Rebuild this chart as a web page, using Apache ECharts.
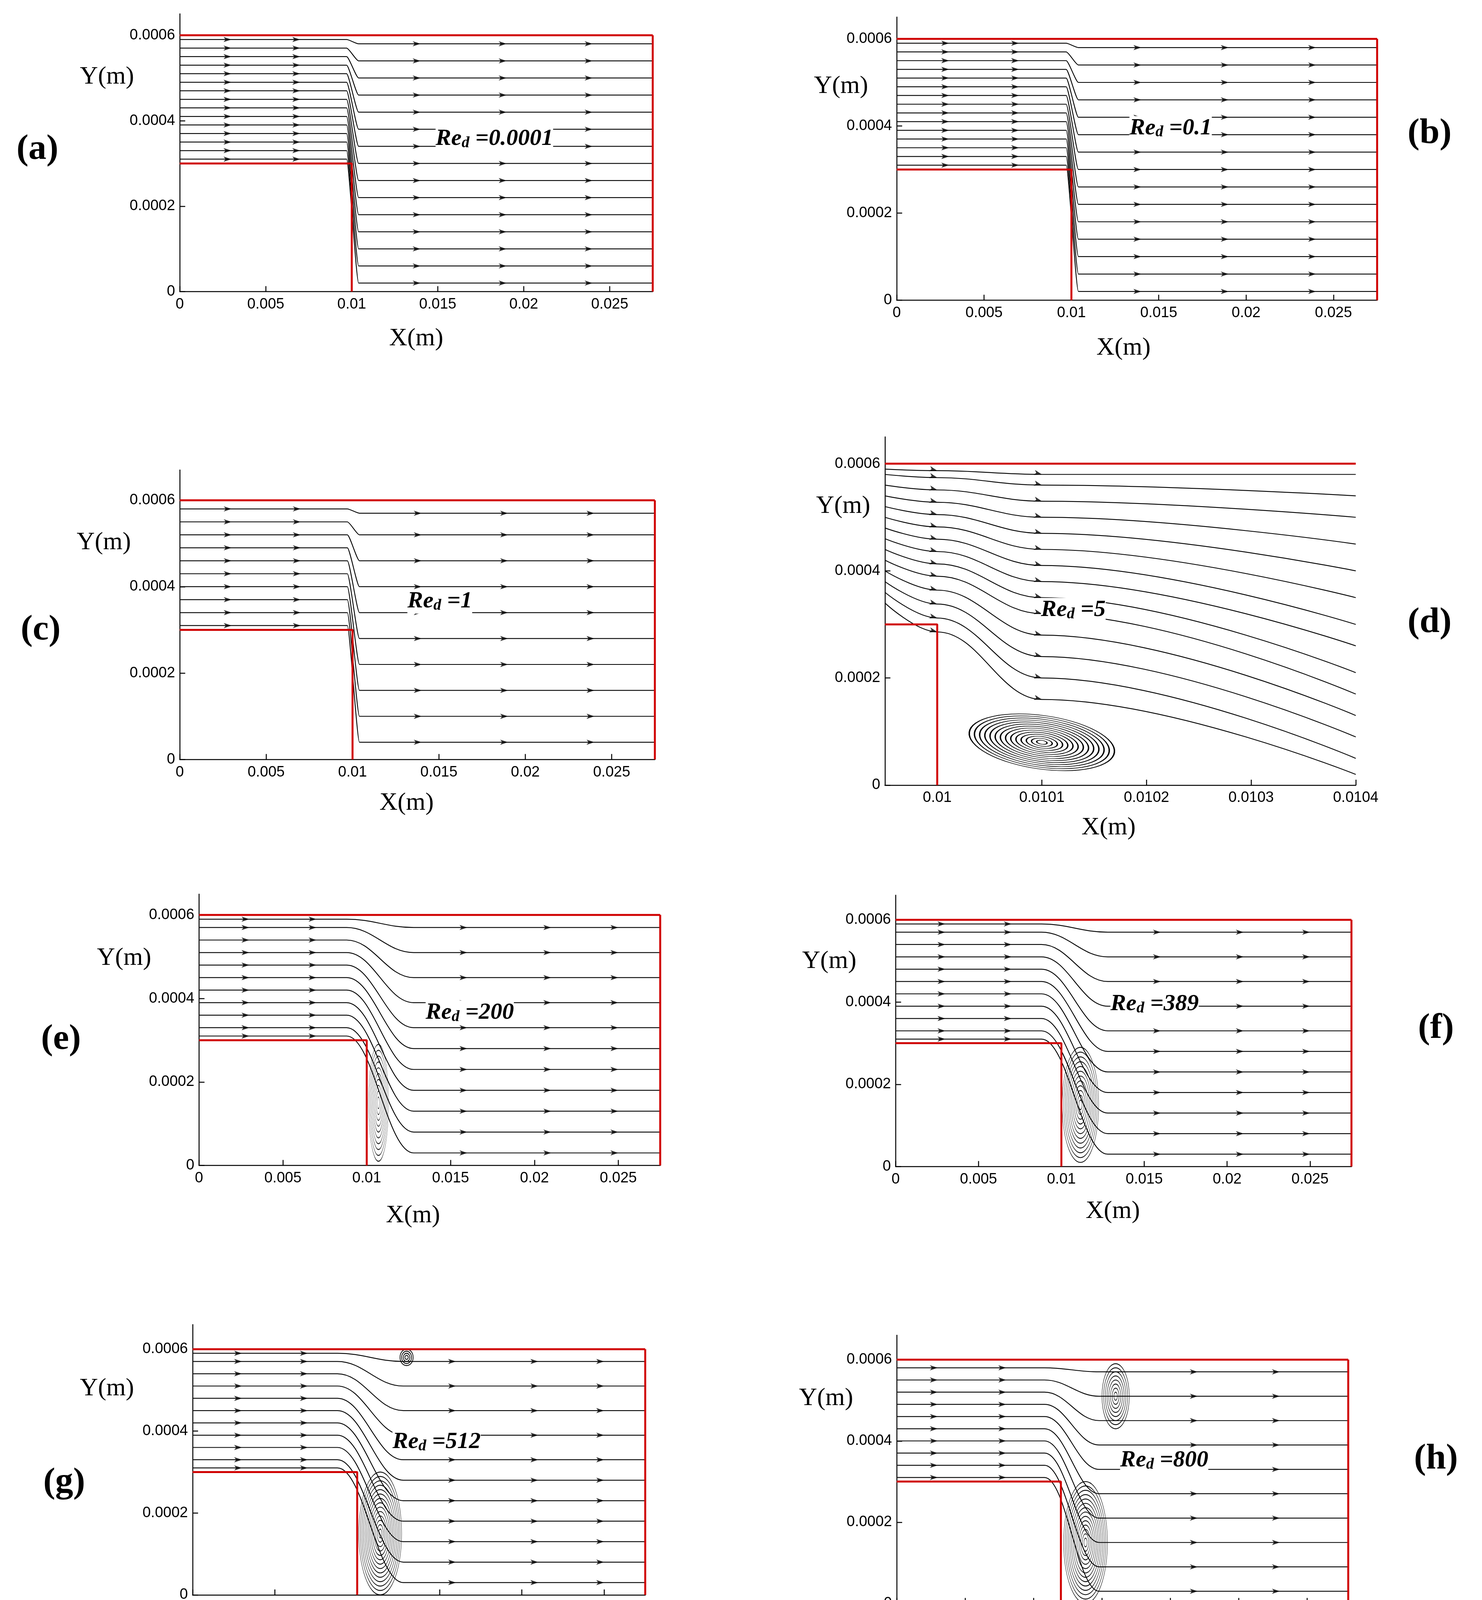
<!DOCTYPE html>
<html><head><meta charset="utf-8">
<script src="https://cdn.jsdelivr.net/npm/echarts@6/dist/echarts.min.js"></script>
<style>html,body{margin:0;background:#fff}#c{width:3793px;height:4288px}</style>
</head><body><div id="c"></div>
<script>
// streamline levels: upstream y, downstream y (m)
var upA = [0.00031,0.00033,0.00035,0.00037,0.00039,0.00041,0.00043,0.00045,0.00047,0.00049,0.00051,0.00053,0.00055,0.00057,0.00059];
var downA = [0.00002,0.00006,0.0001,0.00014,0.00018,0.00022,0.00026,0.0003,0.00034,0.00038,0.00042,0.00046,0.0005,0.00054,0.00058];
var upC = [0.00031,0.00034,0.00037,0.0004,0.00043,0.00046,0.00049,0.00052,0.00055,0.00058];
var downC = [0.00004,0.0001,0.00016,0.00022,0.00028,0.00034,0.0004,0.00046,0.00052,0.00057];
var upD = [0.00034,0.00036,0.00038,0.0004,0.00042,0.00044,0.00046,0.00048,0.0005,0.00052,0.00054,0.00056,0.00058,0.00059];
var midD = [0.00016,0.0002,0.00024,0.00028,0.00032,0.00035,0.00038,0.00041,0.00044,0.00047,0.0005,0.00053,0.00056,0.00058];
var endD = [0.00002,0.00005,0.00009,0.00013,0.00017,0.00021,0.00026,0.0003,0.00035,0.0004,0.00045,0.0005,0.00054,0.00058];
var upE = [0.00031,0.00033,0.00036,0.00039,0.00042,0.00045,0.00048,0.00051,0.00054,0.00057,0.00059];
var downE = [0.00003,0.00008,0.00013,0.00018,0.00023,0.00028,0.00033,0.00039,0.00045,0.00051,0.00057];
var upH = [0.00031,0.00034,0.00037,0.0004,0.00043,0.00046,0.00049,0.00052,0.00055,0.00058];
var downH = [0.00003,0.00009,0.00015,0.00021,0.00027,0.00033,0.00039,0.00045,0.00051,0.00057];
// arrow x positions per panel
var arrowsAB = [0.003, 0.007, 0.014, 0.019, 0.024];
var arrowsEH = [0.003, 0.007, 0.016, 0.021, 0.025];
var arrowsH = [0.003, 0.008, 0.022, 0.028];
// vortices: [cx, cy, rx, ry, rings, rotation deg]
var vortD = [[0.01010, 0.00008, 0.00007, 0.00005, 14, -8]];
var vortE = [[0.01070, 0.00015, 0.0006, 0.00014, 10, 0]];
var vortF = [[0.01115, 0.00015, 0.0011, 0.00014, 12, 0]];
var vortG = [[0.01140, 0.00015, 0.0013, 0.00015, 14, 0], [0.0130, 0.00058, 0.0004, 0.00002, 4, 0]];
var vortH = [[0.01380, 0.00015, 0.0016, 0.00015, 14, 0], [0.0160, 0.00051, 0.0010, 0.00008, 8, 0]];
var xTicks = [0, 0.005, 0.01, 0.015, 0.02, 0.025];
var xTicksH = [0, 0.005, 0.01, 0.015, 0.02, 0.025, 0.03];
var xTicksD = [0.01, 0.0101, 0.0102, 0.0103, 0.0104];
var yTicks = [0, 0.0002, 0.0004, 0.0006];

var SX = 3793 / 1385, SY = 4288 / 1568;
var panels = [
  {k:'a', box:[168,610,13,273], xmin:0, xmax:0.0275, ymax:0.00065, step:0.01, up:upA, down:downA, arrows:arrowsAB, xt:xTicks, vort:[], lab:[35,140], yl:[100,72], xl:[389,317], re:[462,130,'0.0001']},
  {k:'b', box:[838,1287,16,281], xmin:0, xmax:0.0275, ymax:0.00065, step:0.01, up:upA, down:downA, arrows:arrowsAB, xt:xTicks, vort:[], lab:[1336,125], yl:[786,81], xl:[1050,326], re:[1094,120,'0.1']},
  {k:'c', box:[168,612,440,711], xmin:0, xmax:0.0275, ymax:0.00067, step:0.01, up:upC, down:downC, arrows:arrowsAB, xt:xTicks, vort:[], lab:[38,590], yl:[97,508], xl:[380,752], re:[411,563,'1']},
  {k:'d', box:[827,1267,409,735], xmin:0.00995, xmax:0.0104, ymax:0.00065, step:0.01, up:upD, mid:midD, down:endD, arrows:[], xt:xTicksD, vort:vortD, lab:[1336,583], yl:[788,474], xl:[1036,775], re:[1003,571,'5']},
  {k:'e', box:[186,617,837,1091], xmin:0, xmax:0.0275, ymax:0.00065, step:0.01, up:upE, down:downE, arrows:arrowsEH, xt:xTicks, vort:vortE, lab:[57,973], yl:[116,897], xl:[386,1138], re:[439,948,'200'], soft:true},
  {k:'f', box:[837,1263,838,1092], xmin:0, xmax:0.0275, ymax:0.00066, step:0.01, up:upE, down:downE, arrows:arrowsEH, xt:xTicks, vort:vortF, lab:[1342,963], yl:[775,900], xl:[1040,1134], re:[1079,940,'389'], soft:true},
  {k:'g', box:[180,603,1240,1493], xmin:0, xmax:0.0275, ymax:0.00066, step:0.01, up:upE, down:downE, arrows:arrowsEH, xt:xTicks, vort:vortG, lab:[60,1388], yl:[100,1300], xl:[378,1532], re:[408,1350,'512'], soft:true},
  {k:'h', box:[838,1260,1250,1501], xmin:0, xmax:0.033, ymax:0.00066, step:0.012, up:upH, down:downH, arrows:arrowsH, xt:xTicksH, vort:vortH, lab:[1342,1366], yl:[772,1309], xl:[1045,1547], re:[1088,1367,'800'], soft:true}
];

var fmt = function (v) { return String(+(+v).toPrecision(6)); };
var grids = [], xAxes = [], yAxes = [], series = [], graphics = [];
panels.forEach(function (p, i) {
  var b = p.box;
  grids.push({left: b[0]*SX, top: b[2]*SY, width: (b[1]-b[0])*SX, height: (b[3]-b[2])*SY, containLabel: false});
  var ax = {lineStyle: {color: '#000', width: 2.5}};
  xAxes.push({type: 'value', gridIndex: i, min: p.xmin, max: p.xmax, splitLine: {show: false}, axisLine: ax,
    axisTick: {inside: true, length: 14, lineStyle: {width: 2.5, color: '#000'}, customValues: p.xt},
    axisLabel: {customValues: p.xt, formatter: fmt, fontFamily: 'Liberation Sans', fontSize: 38, color: '#000', margin: 14}});
  yAxes.push({type: 'value', gridIndex: i, min: 0, max: p.ymax, splitLine: {show: false}, axisLine: ax,
    axisTick: {inside: true, length: 14, lineStyle: {width: 2.5, color: '#000'}, customValues: yTicks},
    axisLabel: {customValues: yTicks, formatter: fmt, fontFamily: 'Liberation Sans', fontSize: 38, color: '#000', margin: 12}});
  var sl = {color: '#000', width: 2.2};
  var arrowPts = [];
  p.up.forEach(function (yu, j) {
    var yd = p.down[j], pts;
    if (p.mid) {
      pts = [[p.xmin, yu], [0.01, yu - (yu - p.mid[j]) * 0.3], [0.0101, p.mid[j]], [0.0104, yd]];
      arrowPts.push(pts[1], pts[2]);
    } else if (p.soft) {
      pts = [[p.xmin, yu], [p.step - 0.0012, yu], [p.step + 0.0028, yd], [p.xmax, yd]];
    } else {
      pts = [[p.xmin, yu], [p.step - 0.0003, yu], [p.step + 0.0004, yd], [p.xmax, yd]];
    }
    series.push({type: 'line', xAxisIndex: i, yAxisIndex: i, data: pts, smooth: p.soft || p.mid ? 0.4 : 0.2,
      smoothMonotone: 'x', showSymbol: false, silent: true, lineStyle: sl, z: 2});
    p.arrows.forEach(function (ax2) {
      arrowPts.push([ax2, ax2 < p.step ? yu : yd]);
    });
  });
  series.push({type: 'scatter', xAxisIndex: i, yAxisIndex: i, data: arrowPts, symbol: 'arrow', symbolSize: [10, 20],
    symbolRotate: p.mid ? -105 : -90, itemStyle: {color: '#000'}, silent: true, z: 3});
  if (p.vort.length) {
    series.push({type: 'custom', xAxisIndex: i, yAxisIndex: i, data: p.vort, silent: true, z: 4,
      renderItem: function (params, api) {
        var c = api.coord([api.value(0), api.value(1)]);
        var e = api.coord([api.value(0) + api.value(2), api.value(1) + api.value(3)]);
        var rx = Math.abs(e[0] - c[0]), ry = Math.abs(c[1] - e[1]), n = api.value(4);
        var kids = [];
        for (var r = 1; r <= n; r++) {
          kids.push({type: 'circle', x: c[0], y: c[1], rotation: api.value(5) * Math.PI / 180,
            scaleX: rx / ry, shape: {cx: 0, cy: 0, r: ry * r / n},
            style: {fill: 'none', stroke: '#000', lineWidth: 2.2, strokeNoScale: true}});
        }
        return {type: 'group', children: kids};
      }});
  }
  // red walls
  var red = {color: '#d00000', width: 5};
  var walls = [[[p.xmin, 0.0006], [p.xmax, 0.0006]], [[p.xmin, 0.0003], [p.step, 0.0003], [p.step, 0]]];
  if (p.k !== 'd') walls.push([[p.xmax, 0.0006], [p.xmax, 0]]);
  walls.forEach(function (w) {
    series.push({type: 'line', xAxisIndex: i, yAxisIndex: i, data: w, showSymbol: false, silent: true, lineStyle: red, z: 5});
  });
  var serif = 'Liberation Serif';
  graphics.push({type: 'text', x: p.lab[0]*SX, y: p.lab[1]*SY, style: {text: '(' + p.k + ')', font: 'bold 92px ' + serif, fill: '#000', align: 'center', verticalAlign: 'middle'}});
  graphics.push({type: 'text', x: p.yl[0]*SX, y: p.yl[1]*SY, style: {text: 'Y(m)', font: '64px ' + serif, fill: '#000', align: 'center', verticalAlign: 'middle'}});
  graphics.push({type: 'text', x: p.xl[0]*SX, y: p.xl[1]*SY, style: {text: 'X(m)', font: '64px ' + serif, fill: '#000', align: 'center', verticalAlign: 'middle'}});
  graphics.push({type: 'text', x: p.re[0]*SX, y: p.re[1]*SY, z: 10, style: {
    text: '{r|Re}{s|d}{r| =' + p.re[2] + '}', align: 'center', verticalAlign: 'middle',
    backgroundColor: '#fff',
    rich: {r: {font: 'italic bold 60px ' + serif, fill: '#000'}, s: {font: 'italic bold 40px ' + serif, fill: '#000', padding: [22, 0, 0, 0]}}}});
});

var chart = echarts.init(document.getElementById('c'));
chart.setOption({animation: false, backgroundColor: '#fff', grid: grids, xAxis: xAxes, yAxis: yAxes, series: series, graphic: graphics});
</script></body></html>
